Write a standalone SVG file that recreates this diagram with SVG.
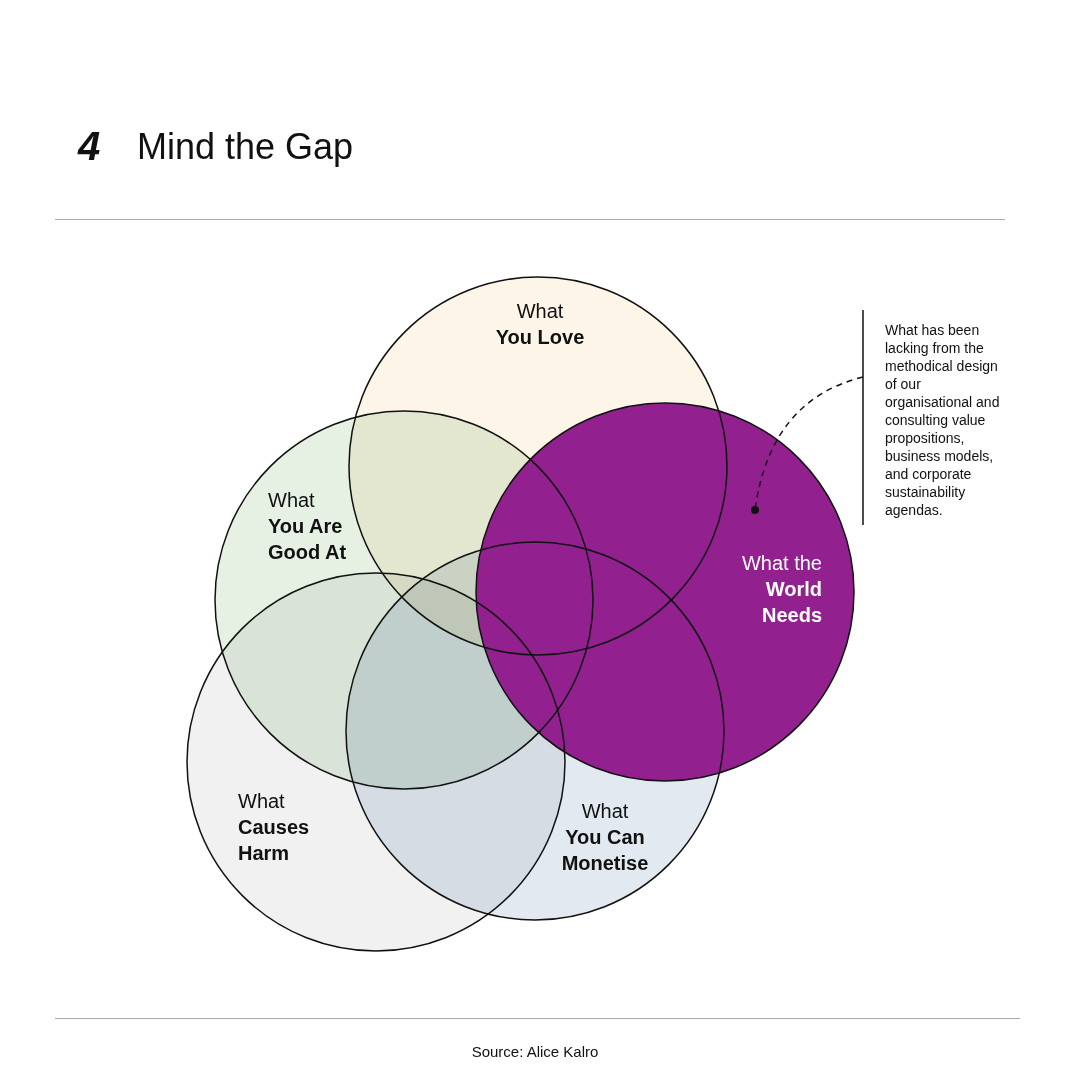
<svg xmlns="http://www.w3.org/2000/svg" width="1080" height="1081" viewBox="0 0 1080 1081">
<style>
text{font-family:"Helvetica Neue","Liberation Sans",Arial,sans-serif;fill:#111}
.c{stroke:#111;stroke-width:1.5;fill:none}
.f{mix-blend-mode:multiply}
.l{font-size:20px}
.b{font-weight:bold}
.n{font-size:14px}
</style>
<rect width="1080" height="1081" fill="#fff"/>
<text x="78" y="160" font-size="40" font-weight="bold" font-style="italic">4</text>
<text x="137" y="159" font-size="36">Mind the Gap</text>
<line x1="55" y1="219.5" x2="1005" y2="219.5" stroke="#aaa"/>
<g id="fills">
<circle class="f" cx="538" cy="466" r="189" fill="#fdf5e8"/>
<circle class="f" cx="404" cy="600" r="189" fill="#e6f1e4"/>
<circle class="f" cx="376" cy="762" r="189" fill="#f1f1f1"/>
<circle class="f" cx="535" cy="731" r="189" fill="#e2e9f1"/>
<circle cx="665" cy="592" r="189" fill="#93208f"/>
</g>
<g id="love"><circle class="c" cx="538" cy="466" r="189"/>
<text class="l" x="540" y="318" text-anchor="middle">What</text><text class="l b" x="540" y="344" text-anchor="middle">You Love</text></g>
<g id="good"><circle class="c" cx="404" cy="600" r="189"/>
<text class="l" x="268" y="507">What</text><text class="l b" x="268" y="533">You Are</text><text class="l b" x="268" y="559">Good At</text></g>
<g id="world"><circle class="c" cx="665" cy="592" r="189"/>
<text class="l" x="822" y="570" text-anchor="end" style="fill:#fff">What the</text><text class="l b" x="822" y="596" text-anchor="end" style="fill:#fff">World</text><text class="l b" x="822" y="622" text-anchor="end" style="fill:#fff">Needs</text></g>
<g id="harm"><circle class="c" cx="376" cy="762" r="189"/>
<text class="l" x="238" y="808">What</text><text class="l b" x="238" y="834">Causes</text><text class="l b" x="238" y="860">Harm</text></g>
<g id="monetise"><circle class="c" cx="535" cy="731" r="189"/>
<text class="l" x="605" y="818" text-anchor="middle">What</text><text class="l b" x="605" y="844" text-anchor="middle">You Can</text><text class="l b" x="605" y="870" text-anchor="middle">Monetise</text></g>
<g id="connectors">
<line x1="863" y1="310" x2="863" y2="525" stroke="#111" stroke-width="1.5"/>
<path d="M863,377 Q770,400 755,510" fill="none" stroke="#111" stroke-width="1.5" stroke-dasharray="6,5"/>
<circle cx="755" cy="510" r="4" fill="#111"/>
</g>
<g id="note" class="n">
<text x="885" y="335">What has been</text>
<text x="885" y="353">lacking from the</text>
<text x="885" y="371">methodical design</text>
<text x="885" y="389">of our</text>
<text x="885" y="407">organisational and</text>
<text x="885" y="425">consulting value</text>
<text x="885" y="443">propositions,</text>
<text x="885" y="461">business models,</text>
<text x="885" y="479">and corporate</text>
<text x="885" y="497">sustainability</text>
<text x="885" y="515">agendas.</text>
</g>
<line x1="55" y1="1018.5" x2="1020" y2="1018.5" stroke="#aaa"/>
<text x="535" y="1057" font-size="15" text-anchor="middle">Source: Alice Kalro</text>
</svg>
